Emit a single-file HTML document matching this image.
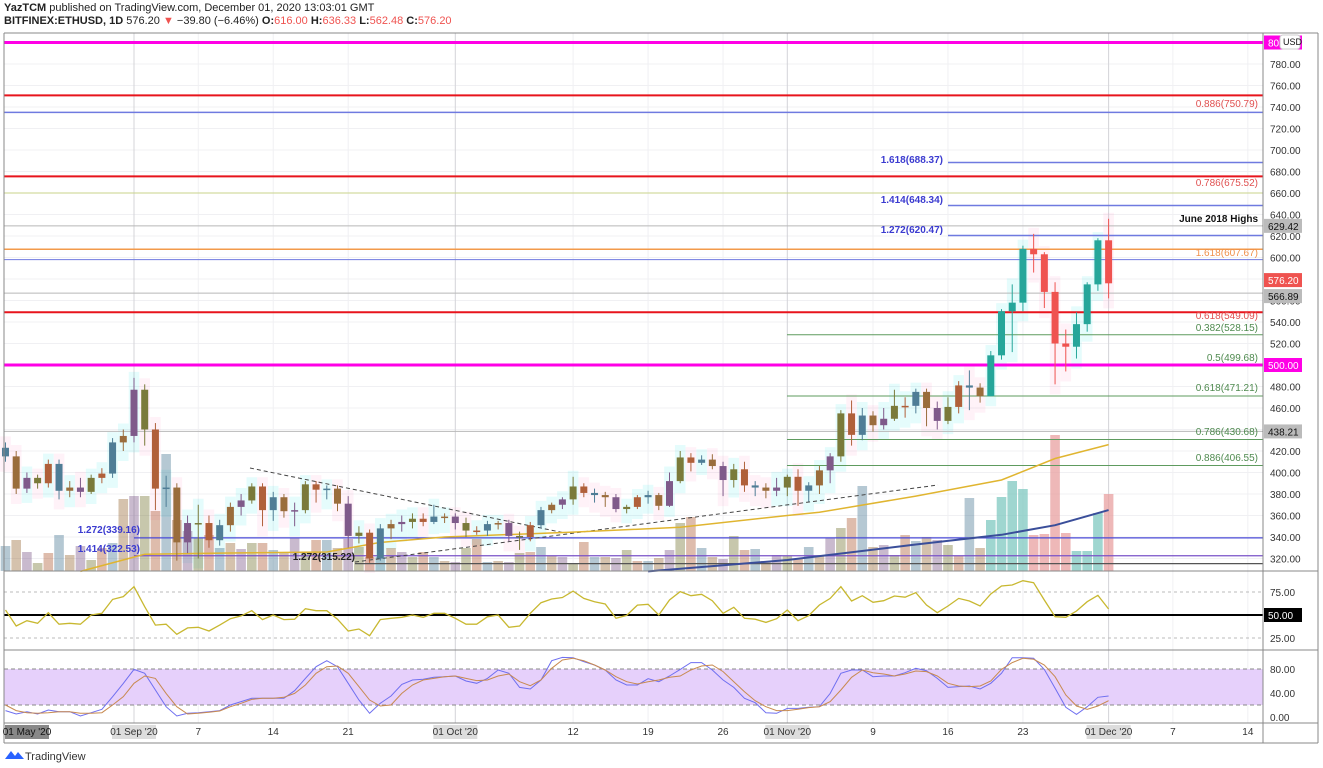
<!DOCTYPE html>
<html><head><meta charset="utf-8"><title>ETHUSD chart</title>
<style>
html,body{margin:0;padding:0;background:#fff;}
svg{display:block;font-family:"Liberation Sans",sans-serif;}
</style></head>
<body>
<svg id="chart" width="1323" height="768" viewBox="0 0 1323 768" xmlns="http://www.w3.org/2000/svg">
<text x="4" y="11" font-size="11" fill="#222"><tspan font-weight="bold">YazTCM</tspan> published on TradingView.com, December 01, 2020 13:03:01 GMT</text>
<text x="4" y="24" font-size="11" fill="#222"><tspan font-weight="bold">BITFINEX:ETHUSD, 1D</tspan> 576.20 <tspan fill="#ef5350">▼</tspan> −39.80 (−6.46%) <tspan font-weight="bold">O:</tspan><tspan fill="#ef5350">616.00</tspan> <tspan font-weight="bold">H:</tspan><tspan fill="#ef5350">636.33</tspan> <tspan font-weight="bold">L:</tspan><tspan fill="#ef5350">562.48</tspan> <tspan font-weight="bold">C:</tspan><tspan fill="#ef5350">576.20</tspan></text>
<g id="grid"></g>
<g id="bg"></g>
<g id="vol"></g>
<g id="levels"></g>
<g id="ma"></g>
<g id="candles"></g>
<g id="rsi"></g>
<g id="stoch"></g>
<g id="axes"></g>
<g>
<path d="M5 759 l6 -8 l4 5 l3 -4 l6 7 z" fill="#2962ff"/>
<text x="25" y="760" font-size="11" fill="#333">TradingView</text>
</g>
</svg>
<script>
const closes=[415,385,395,390,408,383,386,382,395,399,428,434,
477,440,385,386,335,353,353,337,351,368,374,387,365,377,364,365,389,384,385,371,341,344,320,348,352,354,357,354,359,359,
353,346,346,352,353,341,340,351,365,370,375,387,381,379,377,366,368,377,379,369,392,414,409,412,406,393,403,388,386,383,386,
396,383,388,402,415,455,435,453,444,450,462,462,475,460,448,461,481,479,471,509,550,558,608,603,568,520,517,538,575,616,
576];
const firstOpen=423;
const highs=[428,420,400,398,412,412,392,395,398,404,432,440,488,482,446,397,390,360,370,360,356,372,380,390,390,382,380,372,392,392,388,388,378,350,347,352,356,360,362,362,370,362,362,358,350,355,355,356,345,354,368,372,377,396,390,385,382,380,370,379,383,381,400,420,418,416,417,410,408,410,392,390,395,398,403,391,406,418,458,467,460,457,460,477,470,478,478,466,470,485,495,483,513,552,575,611,622,605,577,533,549,577,618,636];
const lows=[410,380,381,385,386,375,377,377,380,390,395,420,428,425,365,368,318,325,320,330,332,345,360,371,350,355,358,350,362,372,375,364,330,334,316,318,338,345,348,350,352,353,347,340,342,341,347,336,328,336,348,362,366,370,377,372,368,363,362,366,371,365,368,390,401,407,403,378,386,382,378,376,378,378,369,373,380,390,410,425,430,438,440,448,451,455,443,440,445,455,458,465,471,505,512,550,586,553,482,494,506,531,569,562];
const volumes=[25,31,19,8,18,36,16,25,11,23,28,72,75,75,60,117,51,40,33,36,23,28,22,28,28,21,19,33,19,31,31,23,32,24,14,14,23,19,14,19,14,
10,9,23,32,9,10,9,18,19,24,15,14,7,29,14,14,13,21,10,10,13,21,48,54,23,14,12,35,21,22,10,16,15,12,24,15,33,43,53,85,24,26,16,36,30,
34,31,26,15,73,23,51,74,90,82,36,37,136,38,20,20,58,77];
const rsiValues=[55.4,38,43.8,41,52.5,40,41,40,50,51.8,67,70,80.8,59,39,40,29,36,36.6,32.6,39,46,49,54.7,45,50,45,45.4,56.9,54.7,54.7,45.4,32.6,34.8,27.5,45,46.4,47.5,50,47.5,51.8,51.8,46.4,40,40,48,50,36.6,38,51.8,63.4,67.4,69,76,68,64.5,62,46.4,49.6,60.8,61.6,
50,66.3,75.4,71,72.5,65.5,51.8,58.4,46.4,45.4,42,46,55.4,43.8,49.3,60.9,68,80.8,65.2,71,63.8,65.5,70.7,69.3,74.3,60.9,52.5,59.8,68,65.2,59.8,72.8,81.5,82.6,87.3,85.1,66.3,48.2,47.5,54.3,64.5,71.4,56.5];
const stochK=[10.6,5,8.9,5,11.7,8.9,8.9,1.7,7.2,12.8,33.9,56,79.4,72.8,45,17.2,1.7,6.1,7.2,8.9,10.6,20,25.6,31.1,31.1,31.1,31.1,43.9,64.4,83.9,93.9,83.9,56.1,28.3,6.1,22.8,35,54.4,61.7,62.8,66.1,67.2,68.3,60,56.1,64.4,78.3,72.8,49.4,46.7,61.7,93.9,99.4,98.9,92.2,86.7,78.3,61.7,53.3,53.3,63.9,
58.9,68.3,79.4,90.6,90.6,78.3,61.7,49.4,31.1,23.9,7.2,6.1,14.4,14.4,16.1,17.2,39.4,72.8,78.3,78.3,67.2,68.3,68.3,73.9,81.1,77.2,64.4,49.4,50.6,51.7,46.7,56.1,72.8,98.9,98.9,97.8,79.4,47.8,16.1,4.4,17.2,32.8,35];
const stochD=[20,10.6,7.2,6.1,7.2,8.9,8.9,6.1,6.1,7.2,20,33.9,56.1,68.3,64.4,39.4,17.2,5,6.1,7.8,10,17.2,22.8,29.4,31.1,31.1,32.8,39.4,53.3,72.8,83.9,85,72.8,50.6,28.3,18.3,20,39.4,53.3,61.7,64.4,67.2,68.3,64.4,60.6,61.7,68.3,71.7,58.9,52.2,61.7,81.1,95,97.8,93.9,86.7,78.3,67.2,58.9,55,58.9,
61.7,66.1,68.3,78.3,85,86.7,75.6,58.9,42.2,27.2,17.2,10.6,10.6,12.8,15.6,17.2,25.6,45,66.1,78.3,73.9,71.7,68.3,71.7,76.7,75.6,68.3,56.1,51.7,50.6,51.7,60,79.4,90.6,97.8,96.1,86.7,67.2,36.7,18.3,12.8,18.3,27.2];
const maSlowIdx=[7,13,20,30,35,41,53,63,73,76,79,85,93,98,103];
const maSlowVal=[308,324,325,326,335,340,344.6,349,360,363,368,378,393,413,426];
const maLongIdx=[60,73,85,93,98,103];
const maLongVal=[308,318.6,333,342,351,365];
const priceTicks=[780,760,740,720,700,680,660,640,620,600,580,560,540,520,500,480,460,440,420,400,380,360,340,320];
const dateTickIdx=[12,18,25,32,42,53,60,67,73,81,88,95,103,109,116];
const dateTickLabels=["01 Sep '20","7","14","21","01 Oct '20","12","19","26","01 Nov '20","9","16","23","01 Dec '20","7","14"];

const NS="http://www.w3.org/2000/svg";
const L=4,R=1263,MT=33,MB=571;
const xs=i=>134+(i-12)*10.71;
const py=p=>64+(780-p)*1.075;
const ry=v=>615-(v-50)*0.92;
const sy=v=>717-v*0.6;
function mk(parent,tag,attrs,text){const e=document.createElementNS(NS,tag);for(const k in attrs)e.setAttribute(k,attrs[k]);if(text!==undefined)e.textContent=text;document.getElementById(parent).appendChild(e);return e;}

priceTicks.forEach(p=>{const e=mk('grid','line',{x1:L,x2:R,y1:py(p),y2:py(p),stroke:'#f0f0f3','stroke-width':1});

});
dateTickIdx.forEach((d,k)=>{const major=dateTickLabels[k].length>3;const e=mk('grid','line',{x1:xs(d),x2:xs(d),y1:MT,y2:723,stroke:major?'#d4d4d8':'#f0f0f3','stroke-width':1});

});

const palette=['#4f7d96','#9a6d3c','#7f5a8a','#7a7a3a','#b0603a'];
const opens=[firstOpen].concat(closes.slice(0,-1));
closes.forEach((c,i)=>{
  const o=opens[i],x=xs(i),up=c>=o;
  let col=i>=92?(up?'#26a69a':'#ef5350'):palette[i%5];
  const hy=py(highs[i])-6,ly=py(lows[i])+10;
  const b=mk('bg','rect',{x:x-5.3,y:hy,width:10.6,height:ly-hy,fill:up?'rgba(0,230,230,0.10)':'rgba(255,90,170,0.08)'});
  
  
  const v=mk('vol','rect',{x:x-4.8,y:MB-volumes[i],width:9.6,height:volumes[i],fill:i>=92?(up?'#7fc8c0':'#e8a0a0'):col,opacity:i>=92?0.75:0.42});
  
  
  const w=mk('candles','line',{x1:x,x2:x,y1:py(highs[i]),y2:py(lows[i]),stroke:col,'stroke-width':1});
  
  
  const top=py(Math.max(o,c)),bot=py(Math.min(o,c));
  const r=mk('candles','rect',{x:x-3.5,y:top,width:7,height:Math.max(1.5,bot-top),fill:col});
  
  
});

const lv=[
 [800,L,'#ff00e6',3],[750.79,L,'#e8141c',2],[735,L,'#6f7ae0',1.5],[688.37,948,'#6f7ae0',1.5],[675.52,L,'#e8141c',2],
 [660,L,'#c9d38a',1],[648.34,948,'#6f7ae0',1.5],[629.42,L,'#b8b8b8',1],[620.47,948,'#6f7ae0',1.5],[607.67,L,'#f39a4a',1.5],
 [598,L,'#6f7ae0',1],[566.89,L,'#b8b8b8',1],[549.09,L,'#e8141c',2],[528.15,787,'#5e9b5e',1],[500,L,'#ff00e6',3],
 [471.21,787,'#5e9b5e',1],[438.21,L,'#b8b8b8',1],[430.68,787,'#5e9b5e',1],[406.55,787,'#5e9b5e',1],
 [339.16,134,'#4b4bd8',1.2],[322.53,134,'#7a52c8',1.2],[315.22,355,'#555',1.2]];
lv.forEach(a=>{const e=mk('levels','line',{x1:a[1],x2:R,y1:py(a[0]),y2:py(a[0]),stroke:a[2],'stroke-width':a[3]});

});
const lab=[
 ['0.886(750.79)',1258,107,'#e05050'],['1.618(688.37)',943,163,'#3b3bd0'],['0.786(675.52)',1258,186,'#e05050'],
 ['1.414(648.34)',943,203,'#3b3bd0'],['June 2018 Highs',1258,222,'#111'],['1.272(620.47)',943,233,'#3b3bd0'],
 ['1.618(607.67)',1258,256,'#f0904a'],['0.618(549.09)',1258,319,'#e05050'],['0.382(528.15)',1258,331,'#4f8a4f'],
 ['0.5(499.68)',1258,361,'#4f8a4f'],['0.618(471.21)',1258,391,'#4f8a4f'],['0.786(430.68)',1258,435,'#4f8a4f'],
 ['0.886(406.55)',1258,461,'#4f8a4f'],['1.272(339.16)',140,533,'#3b3bd0'],['1.414(322.53)',140,552,'#3b3bd0'],['1.272(315.22)',355,560,'#222']];
lab.forEach(a=>{const e=mk('levels','text',{x:a[1],y:a[2],'text-anchor':'end','font-size':10,fill:a[3],'font-weight':(a[0]=='June 2018 Highs'||a[1]<950)?'bold':'normal'},a[0]);

});

const t1=mk('levels','line',{x1:250,y1:468,x2:565,y2:533,stroke:'#444','stroke-dasharray':'4,3','stroke-width':1});


const t2=mk('levels','line',{x1:355,y1:562,x2:938,y2:485,stroke:'#444','stroke-dasharray':'4,3','stroke-width':1});



function pathFrom(idx,val){return idx.map((d,k)=>(k?'L':'M')+xs(d).toFixed(1)+' '+py(val[k]).toFixed(1)).join(' ');}
const m1=mk('ma','path',{d:pathFrom(maSlowIdx,maSlowVal),fill:'none',stroke:'#e0b530','stroke-width':1.5});


const m2=mk('ma','path',{d:pathFrom(maLongIdx,maLongVal),fill:'none',stroke:'#3a4e9a','stroke-width':2});



[[75,'#bbb','3,3',1],[25,'#bbb','3,3',1],[50,'#000','',2]].forEach(a=>{const e=mk('rsi','line',{x1:L,x2:R,y1:ry(a[0]),y2:ry(a[0]),stroke:a[1],'stroke-dasharray':a[2],'stroke-width':a[3]});

});
const rp=mk('rsi','path',{d:rsiValues.map((v,i)=>(i?'L':'M')+xs(i).toFixed(1)+' '+ry(v).toFixed(1)).join(' '),fill:'none',stroke:'#c8b830','stroke-width':1.3});



const band=mk('stoch','rect',{x:L,y:sy(80),width:R-L,height:sy(20)-sy(80),fill:'#e6d0fb'});


[80,20].forEach(v=>{const e=mk('stoch','line',{x1:L,x2:R,y1:sy(v),y2:sy(v),stroke:'#888','stroke-dasharray':'4,3'});

});
const kp=mk('stoch','path',{d:stochK.map((v,i)=>(i?'L':'M')+xs(i).toFixed(1)+' '+sy(v).toFixed(1)).join(' '),fill:'none',stroke:'#6f6ff0','stroke-width':1});


const dp=mk('stoch','path',{d:stochD.map((v,i)=>(i?'L':'M')+xs(i).toFixed(1)+' '+sy(v).toFixed(1)).join(' '),fill:'none',stroke:'#c88a50','stroke-width':1});



const frame=[[L,MT,L,743],[L,MT,1318,MT],[1318,MT,1318,743],[L,743,1318,743],[R,MT,R,743],[L,MB,1318,MB],[L,650,1318,650],[L,723,1318,723]];
frame.forEach(f=>{const e=mk('axes','line',{x1:f[0],y1:f[1],x2:f[2],y2:f[3],stroke:'#888','stroke-width':1});

});
priceTicks.forEach(p=>{const e=mk('axes','text',{x:1270,y:py(p)+4,'font-size':10,fill:'#333'},p.toFixed(2));

});
[[75,'75.00'],[25,'25.00']].forEach(a=>{const e=mk('axes','text',{x:1270,y:ry(a[0])+4,'font-size':10,fill:'#333'},a[1]);

});
[[80,'80.00'],[40,'40.00'],[0,'0.00']].forEach(a=>{const e=mk('axes','text',{x:1270,y:sy(a[0])+4,'font-size':10,fill:'#333'},a[1]);

});
dateTickIdx.forEach((d,k)=>{const t=dateTickLabels[k];
 if(t.length>3){const b=mk('axes','rect',{x:xs(d)-22,y:725,width:44,height:14,fill:'#ddd'});
 
 }
 const e=mk('axes','text',{x:xs(d),y:735,'font-size':10,fill:'#333','text-anchor':'middle'},t);
 
 });
const mayBox=mk('axes','rect',{x:5,y:725,width:44,height:14,fill:'#888'});


const mayT=mk('axes','text',{x:27,y:735,'font-size':10,fill:'#111','text-anchor':'middle'},"01 May '20");



const boxes=[[800,'#ff00e6','800','#fff'],[629.42,'#bbb','629.42','#111'],[576.2,'#ef5350','576.20','#fff'],[566.89,'#bbb','566.89','#111'],[500,'#ff00e6','500.00','#fff'],[438.21,'#bbb','438.21','#111']];
boxes.forEach(b=>{const y=b[0]==566.89?py(b[0])+3:(b[0]==576.2?py(b[0])-3:py(b[0]));
 const r=mk('axes','rect',{x:1264,y:y-7,width:38,height:14,fill:b[1]});
 
 
 const t=mk('axes','text',{x:1268,y:y+4,'font-size':10,fill:b[3]},b[2]);
 
 });
const rb=mk('axes','rect',{x:1264,y:ry(50)-7,width:38,height:14,fill:'#000'});


const rt=mk('axes','text',{x:1268,y:ry(50)+4,'font-size':10,fill:'#fff'},'50.00');


const ub=mk('axes','rect',{x:1280,y:35,width:20,height:14,fill:'#fff',stroke:'#ccc',rx:3});


const ut=mk('axes','text',{x:1283,y:45,'font-size':9,fill:'#111'},'USD');


</script>
</body></html>
